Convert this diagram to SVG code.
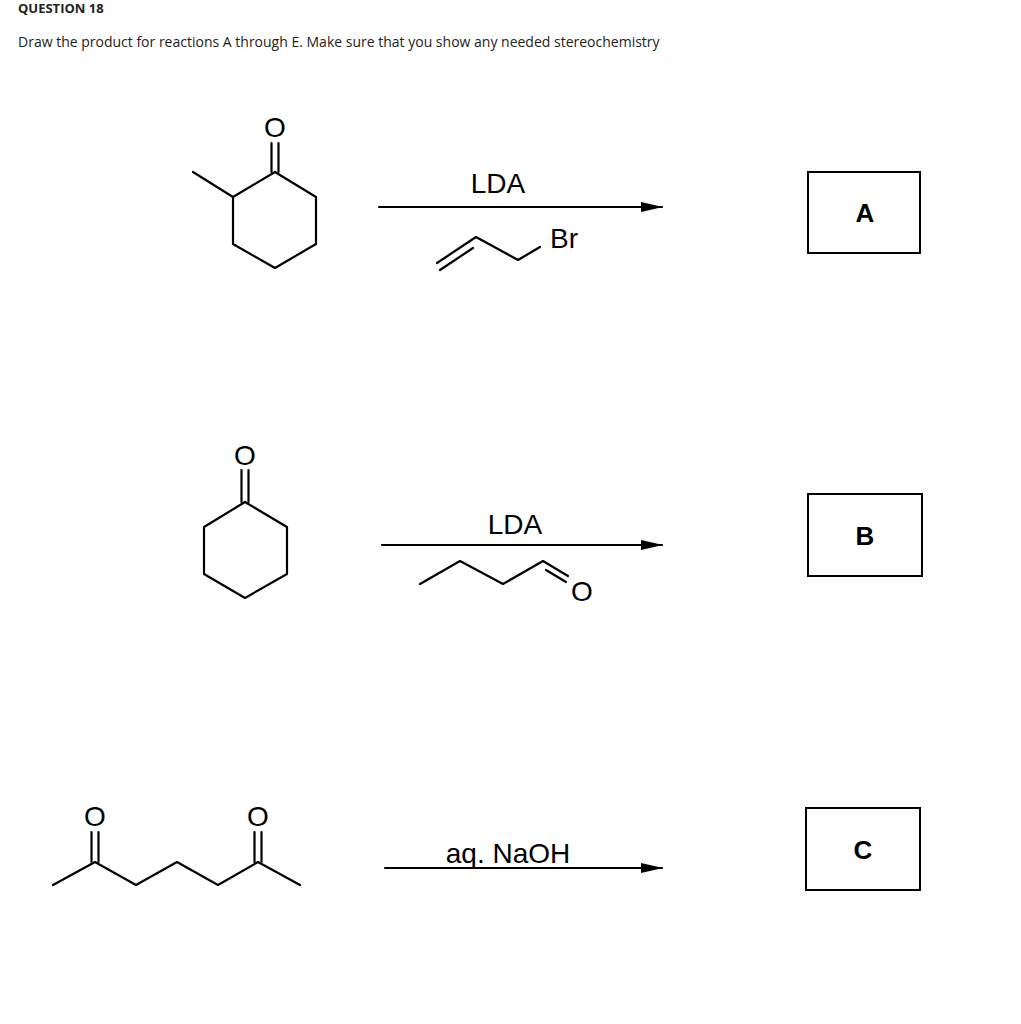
<svg xmlns="http://www.w3.org/2000/svg" width="1021" height="1024" viewBox="0 0 1021 1024">
<defs>
<style>
.b{fill:none;stroke:#000;stroke-width:2.2;stroke-linecap:round;stroke-linejoin:round}
.at{font-family:"Liberation Sans",Arial,sans-serif;font-size:28px;fill:#000;text-anchor:middle}
.box{fill:#fff;stroke:#000;stroke-width:2}
.lbl{font-family:"Liberation Sans",Arial,sans-serif;font-size:26px;font-weight:bold;text-anchor:middle}
.hd{font-family:"Open Sans","Noto Sans",sans-serif;fill:#222}
</style>
<marker id="ah" markerWidth="22" markerHeight="10" refX="21" refY="5" orient="auto" markerUnits="userSpaceOnUse"><path d="M0,0 L22,5 L0,10 Z" fill="#000"/></marker>
</defs>
<rect width="1021" height="1024" fill="#fff"/>
<text class="hd" x="18" y="13" font-size="13" font-weight="bold">QUESTION 18</text>
<text class="hd" x="18" y="47" font-size="14">Draw the product for reactions A through E.  Make sure that you show any needed stereochemistry</text>

<g id="molA">
<polyline class="b" points="275,172 316,197 316,244 275,268 233,244 233,197 275,172"/>
<line class="b" x1="233" y1="197" x2="193" y2="172"/>
<line class="b" x1="271.5" y1="172" x2="271.5" y2="143"/>
<line class="b" x1="278.5" y1="172" x2="278.5" y2="143"/>
<text class="at" x="275" y="137">O</text>
</g>
<g id="molB">
<polyline class="b" points="245,502 287,527 287,574 245,598 204,574 204,527 245,502"/>
<line class="b" x1="241.5" y1="502" x2="241.5" y2="470"/>
<line class="b" x1="248.5" y1="502" x2="248.5" y2="470"/>
<text class="at" x="245" y="465">O</text>
</g>
<g id="molC">
<polyline class="b" points="53,885 95,862 136,885 177,862 218,885 258,862 300,885"/>
<line class="b" x1="91.5" y1="862" x2="91.5" y2="832"/>
<line class="b" x1="98.5" y1="862" x2="98.5" y2="832"/>
<line class="b" x1="254.5" y1="862" x2="254.5" y2="832"/>
<line class="b" x1="261.5" y1="862" x2="261.5" y2="832"/>
<text class="at" x="95" y="826">O</text>
<text class="at" x="258" y="826">O</text>
</g>
<g id="reagents">
<text class="at" x="498" y="193">LDA</text>
<polyline class="b" points="437,263 476,237 518,260 540,247"/>
<line class="b" x1="440" y1="270" x2="473" y2="248"/>
<text class="at" x="564" y="248" text-anchor="middle">Br</text>
<text class="at" x="515" y="534">LDA</text>
<polyline class="b" points="420,584 460,561 503,584 543,561 568,576"/>
<line class="b" x1="546" y1="570" x2="566" y2="582"/>
<text class="at" x="582" y="601">O</text>
<text class="at" x="508" y="863">aq. NaOH</text>
</g>
<g id="connectors">
<line class="b" x1="379" y1="207" x2="662" y2="207" marker-end="url(#ah)"/>
<line class="b" x1="382" y1="545" x2="662" y2="545" marker-end="url(#ah)"/>
<line class="b" x1="385" y1="868" x2="662" y2="868" marker-end="url(#ah)"/>
</g>
<g id="boxA"><rect class="box" x="808" y="172" width="112" height="81"/><text class="lbl" x="865" y="222">A</text></g>
<g id="boxB"><rect class="box" x="808" y="494" width="114" height="82"/><text class="lbl" x="865" y="545">B</text></g>
<g id="boxC"><rect class="box" x="806" y="808" width="114" height="82"/><text class="lbl" x="863" y="859">C</text></g>
</svg>
